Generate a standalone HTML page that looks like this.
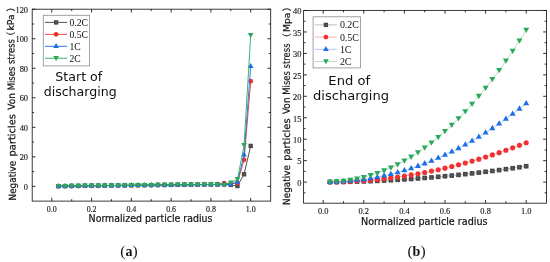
<!DOCTYPE html>
<html><head><meta charset="utf-8"><title>Figure</title>
<style>
html,body{margin:0;padding:0;background:#fff}
svg{display:block}
.t{font-family:"Liberation Serif",serif;font-size:7.9px;fill:#1c1c1c;stroke:#1c1c1c;stroke-width:0.15px}
.l{font-family:"Liberation Serif",serif;font-size:10px;fill:#111}
.a{font-family:"DejaVu Sans","Noto Sans CJK SC",sans-serif;font-size:9.6px;fill:#111;stroke:#111;stroke-width:0.2px}
.n{font-family:"DejaVu Sans","Noto Sans CJK SC",sans-serif;font-size:12.4px;fill:#111}
.c{font-family:"Liberation Serif",serif;font-size:15.5px;fill:#111}
.cb{font-size:14px;font-weight:bold}
</style></head><body>
<svg width="550" height="262" viewBox="0 0 550 262">
<rect width="550" height="262" fill="#fff"/>
<path d="M58.43 186.2 L65.06 186.1 L71.69 186 L78.32 185.91 L84.95 185.82 L91.58 185.74 L98.21 185.66 L104.84 185.58 L111.47 185.5 L118.1 185.43 L124.73 185.36 L131.36 185.29 L137.99 185.22 L144.62 185.15 L151.25 185.08 L157.88 185.01 L164.51 184.94 L171.14 184.88 L177.77 184.81 L184.4 184.75 L191.03 184.69 L197.66 184.62 L204.29 184.56 L210.92 184.5 L217.55 184.44 L224.18 184.43 L230.81 184.87 L237.44 186.05 L244.07 174.25 L250.7 145.91" fill="none" stroke="#3f3f3f" stroke-width="0.9" stroke-opacity="1.0"/>
<rect x="56.28" y="184.05" width="4.3" height="4.3" fill="#3f3f3f"/><path d="M56.28 186.2h4.3M58.43 184.05v4.3" stroke="#757575" stroke-width="0.45"/>
<rect x="62.91" y="183.95" width="4.3" height="4.3" fill="#3f3f3f"/><path d="M62.91 186.1h4.3M65.06 183.95v4.3" stroke="#757575" stroke-width="0.45"/>
<rect x="69.54" y="183.85" width="4.3" height="4.3" fill="#3f3f3f"/><path d="M69.54 186h4.3M71.69 183.85v4.3" stroke="#757575" stroke-width="0.45"/>
<rect x="76.17" y="183.76" width="4.3" height="4.3" fill="#3f3f3f"/><path d="M76.17 185.91h4.3M78.32 183.76v4.3" stroke="#757575" stroke-width="0.45"/>
<rect x="82.8" y="183.67" width="4.3" height="4.3" fill="#3f3f3f"/><path d="M82.8 185.82h4.3M84.95 183.67v4.3" stroke="#757575" stroke-width="0.45"/>
<rect x="89.43" y="183.59" width="4.3" height="4.3" fill="#3f3f3f"/><path d="M89.43 185.74h4.3M91.58 183.59v4.3" stroke="#757575" stroke-width="0.45"/>
<rect x="96.06" y="183.51" width="4.3" height="4.3" fill="#3f3f3f"/><path d="M96.06 185.66h4.3M98.21 183.51v4.3" stroke="#757575" stroke-width="0.45"/>
<rect x="102.69" y="183.43" width="4.3" height="4.3" fill="#3f3f3f"/><path d="M102.69 185.58h4.3M104.84 183.43v4.3" stroke="#757575" stroke-width="0.45"/>
<rect x="109.32" y="183.35" width="4.3" height="4.3" fill="#3f3f3f"/><path d="M109.32 185.5h4.3M111.47 183.35v4.3" stroke="#757575" stroke-width="0.45"/>
<rect x="115.95" y="183.28" width="4.3" height="4.3" fill="#3f3f3f"/><path d="M115.95 185.43h4.3M118.1 183.28v4.3" stroke="#757575" stroke-width="0.45"/>
<rect x="122.58" y="183.21" width="4.3" height="4.3" fill="#3f3f3f"/><path d="M122.58 185.36h4.3M124.73 183.21v4.3" stroke="#757575" stroke-width="0.45"/>
<rect x="129.21" y="183.14" width="4.3" height="4.3" fill="#3f3f3f"/><path d="M129.21 185.29h4.3M131.36 183.14v4.3" stroke="#757575" stroke-width="0.45"/>
<rect x="135.84" y="183.07" width="4.3" height="4.3" fill="#3f3f3f"/><path d="M135.84 185.22h4.3M137.99 183.07v4.3" stroke="#757575" stroke-width="0.45"/>
<rect x="142.47" y="183" width="4.3" height="4.3" fill="#3f3f3f"/><path d="M142.47 185.15h4.3M144.62 183v4.3" stroke="#757575" stroke-width="0.45"/>
<rect x="149.1" y="182.93" width="4.3" height="4.3" fill="#3f3f3f"/><path d="M149.1 185.08h4.3M151.25 182.93v4.3" stroke="#757575" stroke-width="0.45"/>
<rect x="155.73" y="182.86" width="4.3" height="4.3" fill="#3f3f3f"/><path d="M155.73 185.01h4.3M157.88 182.86v4.3" stroke="#757575" stroke-width="0.45"/>
<rect x="162.36" y="182.79" width="4.3" height="4.3" fill="#3f3f3f"/><path d="M162.36 184.94h4.3M164.51 182.79v4.3" stroke="#757575" stroke-width="0.45"/>
<rect x="168.99" y="182.73" width="4.3" height="4.3" fill="#3f3f3f"/><path d="M168.99 184.88h4.3M171.14 182.73v4.3" stroke="#757575" stroke-width="0.45"/>
<rect x="175.62" y="182.66" width="4.3" height="4.3" fill="#3f3f3f"/><path d="M175.62 184.81h4.3M177.77 182.66v4.3" stroke="#757575" stroke-width="0.45"/>
<rect x="182.25" y="182.6" width="4.3" height="4.3" fill="#3f3f3f"/><path d="M182.25 184.75h4.3M184.4 182.6v4.3" stroke="#757575" stroke-width="0.45"/>
<rect x="188.88" y="182.54" width="4.3" height="4.3" fill="#3f3f3f"/><path d="M188.88 184.69h4.3M191.03 182.54v4.3" stroke="#757575" stroke-width="0.45"/>
<rect x="195.51" y="182.47" width="4.3" height="4.3" fill="#3f3f3f"/><path d="M195.51 184.62h4.3M197.66 182.47v4.3" stroke="#757575" stroke-width="0.45"/>
<rect x="202.14" y="182.41" width="4.3" height="4.3" fill="#3f3f3f"/><path d="M202.14 184.56h4.3M204.29 182.41v4.3" stroke="#757575" stroke-width="0.45"/>
<rect x="208.77" y="182.35" width="4.3" height="4.3" fill="#3f3f3f"/><path d="M208.77 184.5h4.3M210.92 182.35v4.3" stroke="#757575" stroke-width="0.45"/>
<rect x="215.4" y="182.29" width="4.3" height="4.3" fill="#3f3f3f"/><path d="M215.4 184.44h4.3M217.55 182.29v4.3" stroke="#757575" stroke-width="0.45"/>
<rect x="222.03" y="182.28" width="4.3" height="4.3" fill="#3f3f3f"/><path d="M222.03 184.43h4.3M224.18 182.28v4.3" stroke="#757575" stroke-width="0.45"/>
<rect x="228.66" y="182.72" width="4.3" height="4.3" fill="#3f3f3f"/><path d="M228.66 184.87h4.3M230.81 182.72v4.3" stroke="#757575" stroke-width="0.45"/>
<rect x="235.29" y="183.9" width="4.3" height="4.3" fill="#3f3f3f"/><path d="M235.29 186.05h4.3M237.44 183.9v4.3" stroke="#757575" stroke-width="0.45"/>
<rect x="241.92" y="172.1" width="4.3" height="4.3" fill="#3f3f3f"/><path d="M241.92 174.25h4.3M244.07 172.1v4.3" stroke="#757575" stroke-width="0.45"/>
<rect x="248.55" y="143.76" width="4.3" height="4.3" fill="#3f3f3f"/><path d="M248.55 145.91h4.3M250.7 143.76v4.3" stroke="#757575" stroke-width="0.45"/>
<path d="M58.43 186.2 L65.06 186.1 L71.69 186 L78.32 185.91 L84.95 185.82 L91.58 185.74 L98.21 185.66 L104.84 185.58 L111.47 185.5 L118.1 185.43 L124.73 185.36 L131.36 185.29 L137.99 185.22 L144.62 185.15 L151.25 185.08 L157.88 185.01 L164.51 184.94 L171.14 184.88 L177.77 184.81 L184.4 184.75 L191.03 184.69 L197.66 184.62 L204.29 184.56 L210.92 184.5 L217.55 184.44 L224.18 183.25 L230.81 183.69 L237.44 182.96 L244.07 159.78 L250.7 81.26" fill="none" stroke="#f23030" stroke-width="0.9" stroke-opacity="1.0"/>
<circle cx="58.43" cy="186.2" r="2.4" fill="#f23030"/>
<circle cx="65.06" cy="186.1" r="2.4" fill="#f23030"/>
<circle cx="71.69" cy="186" r="2.4" fill="#f23030"/>
<circle cx="78.32" cy="185.91" r="2.4" fill="#f23030"/>
<circle cx="84.95" cy="185.82" r="2.4" fill="#f23030"/>
<circle cx="91.58" cy="185.74" r="2.4" fill="#f23030"/>
<circle cx="98.21" cy="185.66" r="2.4" fill="#f23030"/>
<circle cx="104.84" cy="185.58" r="2.4" fill="#f23030"/>
<circle cx="111.47" cy="185.5" r="2.4" fill="#f23030"/>
<circle cx="118.1" cy="185.43" r="2.4" fill="#f23030"/>
<circle cx="124.73" cy="185.36" r="2.4" fill="#f23030"/>
<circle cx="131.36" cy="185.29" r="2.4" fill="#f23030"/>
<circle cx="137.99" cy="185.22" r="2.4" fill="#f23030"/>
<circle cx="144.62" cy="185.15" r="2.4" fill="#f23030"/>
<circle cx="151.25" cy="185.08" r="2.4" fill="#f23030"/>
<circle cx="157.88" cy="185.01" r="2.4" fill="#f23030"/>
<circle cx="164.51" cy="184.94" r="2.4" fill="#f23030"/>
<circle cx="171.14" cy="184.88" r="2.4" fill="#f23030"/>
<circle cx="177.77" cy="184.81" r="2.4" fill="#f23030"/>
<circle cx="184.4" cy="184.75" r="2.4" fill="#f23030"/>
<circle cx="191.03" cy="184.69" r="2.4" fill="#f23030"/>
<circle cx="197.66" cy="184.62" r="2.4" fill="#f23030"/>
<circle cx="204.29" cy="184.56" r="2.4" fill="#f23030"/>
<circle cx="210.92" cy="184.5" r="2.4" fill="#f23030"/>
<circle cx="217.55" cy="184.44" r="2.4" fill="#f23030"/>
<circle cx="224.18" cy="183.25" r="2.4" fill="#f23030"/>
<circle cx="230.81" cy="183.69" r="2.4" fill="#f23030"/>
<circle cx="237.44" cy="182.96" r="2.4" fill="#f23030"/>
<circle cx="244.07" cy="159.78" r="2.4" fill="#f23030"/>
<circle cx="250.7" cy="81.26" r="2.4" fill="#f23030"/>
<path d="M58.43 186.2 L65.06 186.1 L71.69 186 L78.32 185.91 L84.95 185.82 L91.58 185.74 L98.21 185.66 L104.84 185.58 L111.47 185.5 L118.1 185.43 L124.73 185.36 L131.36 185.29 L137.99 185.22 L144.62 185.15 L151.25 185.08 L157.88 185.01 L164.51 184.94 L171.14 184.88 L177.77 184.81 L184.4 184.75 L191.03 184.69 L197.66 184.62 L204.29 184.56 L210.92 184.5 L217.55 184.44 L224.18 184.28 L230.81 184.14 L237.44 182.07 L244.07 154.76 L250.7 66.2" fill="none" stroke="#1e6ee6" stroke-width="0.9" stroke-opacity="1.0"/>
<path d="M55.58 188L61.28 188L58.43 183Z" fill="#1e6ee6"/>
<path d="M62.21 187.9L67.91 187.9L65.06 182.9Z" fill="#1e6ee6"/>
<path d="M68.84 187.8L74.54 187.8L71.69 182.8Z" fill="#1e6ee6"/>
<path d="M75.47 187.71L81.17 187.71L78.32 182.71Z" fill="#1e6ee6"/>
<path d="M82.1 187.62L87.8 187.62L84.95 182.62Z" fill="#1e6ee6"/>
<path d="M88.73 187.54L94.43 187.54L91.58 182.54Z" fill="#1e6ee6"/>
<path d="M95.36 187.46L101.06 187.46L98.21 182.46Z" fill="#1e6ee6"/>
<path d="M101.99 187.38L107.69 187.38L104.84 182.38Z" fill="#1e6ee6"/>
<path d="M108.62 187.3L114.32 187.3L111.47 182.3Z" fill="#1e6ee6"/>
<path d="M115.25 187.23L120.95 187.23L118.1 182.23Z" fill="#1e6ee6"/>
<path d="M121.88 187.16L127.58 187.16L124.73 182.16Z" fill="#1e6ee6"/>
<path d="M128.51 187.09L134.21 187.09L131.36 182.09Z" fill="#1e6ee6"/>
<path d="M135.14 187.02L140.84 187.02L137.99 182.02Z" fill="#1e6ee6"/>
<path d="M141.77 186.95L147.47 186.95L144.62 181.95Z" fill="#1e6ee6"/>
<path d="M148.4 186.88L154.1 186.88L151.25 181.88Z" fill="#1e6ee6"/>
<path d="M155.03 186.81L160.73 186.81L157.88 181.81Z" fill="#1e6ee6"/>
<path d="M161.66 186.74L167.36 186.74L164.51 181.74Z" fill="#1e6ee6"/>
<path d="M168.29 186.68L173.99 186.68L171.14 181.68Z" fill="#1e6ee6"/>
<path d="M174.92 186.61L180.62 186.61L177.77 181.61Z" fill="#1e6ee6"/>
<path d="M181.55 186.55L187.25 186.55L184.4 181.55Z" fill="#1e6ee6"/>
<path d="M188.18 186.49L193.88 186.49L191.03 181.49Z" fill="#1e6ee6"/>
<path d="M194.81 186.42L200.51 186.42L197.66 181.42Z" fill="#1e6ee6"/>
<path d="M201.44 186.36L207.14 186.36L204.29 181.36Z" fill="#1e6ee6"/>
<path d="M208.07 186.3L213.77 186.3L210.92 181.3Z" fill="#1e6ee6"/>
<path d="M214.7 186.24L220.4 186.24L217.55 181.24Z" fill="#1e6ee6"/>
<path d="M221.33 186.08L227.03 186.08L224.18 181.08Z" fill="#1e6ee6"/>
<path d="M227.96 185.94L233.66 185.94L230.81 180.94Z" fill="#1e6ee6"/>
<path d="M234.59 183.87L240.29 183.87L237.44 178.87Z" fill="#1e6ee6"/>
<path d="M241.22 156.56L246.92 156.56L244.07 151.56Z" fill="#1e6ee6"/>
<path d="M247.85 68L253.55 68L250.7 63Z" fill="#1e6ee6"/>
<path d="M58.43 186.2 L65.06 186.1 L71.69 186 L78.32 185.91 L84.95 185.82 L91.58 185.74 L98.21 185.66 L104.84 185.58 L111.47 185.5 L118.1 185.43 L124.73 185.36 L131.36 185.29 L137.99 185.22 L144.62 185.15 L151.25 185.08 L157.88 185.01 L164.51 184.94 L171.14 184.88 L177.77 184.81 L184.4 184.75 L191.03 184.69 L197.66 184.62 L204.29 184.56 L210.92 184.5 L217.55 184.44 L224.18 185.02 L230.81 182.81 L237.44 179.27 L244.07 145.32 L250.7 35.21" fill="none" stroke="#2aa85c" stroke-width="0.9" stroke-opacity="1.0"/>
<path d="M55.58 184L61.28 184L58.43 189Z" fill="#2aa85c"/>
<path d="M62.21 183.9L67.91 183.9L65.06 188.9Z" fill="#2aa85c"/>
<path d="M68.84 183.8L74.54 183.8L71.69 188.8Z" fill="#2aa85c"/>
<path d="M75.47 183.71L81.17 183.71L78.32 188.71Z" fill="#2aa85c"/>
<path d="M82.1 183.62L87.8 183.62L84.95 188.62Z" fill="#2aa85c"/>
<path d="M88.73 183.54L94.43 183.54L91.58 188.54Z" fill="#2aa85c"/>
<path d="M95.36 183.46L101.06 183.46L98.21 188.46Z" fill="#2aa85c"/>
<path d="M101.99 183.38L107.69 183.38L104.84 188.38Z" fill="#2aa85c"/>
<path d="M108.62 183.3L114.32 183.3L111.47 188.3Z" fill="#2aa85c"/>
<path d="M115.25 183.23L120.95 183.23L118.1 188.23Z" fill="#2aa85c"/>
<path d="M121.88 183.16L127.58 183.16L124.73 188.16Z" fill="#2aa85c"/>
<path d="M128.51 183.09L134.21 183.09L131.36 188.09Z" fill="#2aa85c"/>
<path d="M135.14 183.02L140.84 183.02L137.99 188.02Z" fill="#2aa85c"/>
<path d="M141.77 182.95L147.47 182.95L144.62 187.95Z" fill="#2aa85c"/>
<path d="M148.4 182.88L154.1 182.88L151.25 187.88Z" fill="#2aa85c"/>
<path d="M155.03 182.81L160.73 182.81L157.88 187.81Z" fill="#2aa85c"/>
<path d="M161.66 182.74L167.36 182.74L164.51 187.74Z" fill="#2aa85c"/>
<path d="M168.29 182.68L173.99 182.68L171.14 187.68Z" fill="#2aa85c"/>
<path d="M174.92 182.61L180.62 182.61L177.77 187.61Z" fill="#2aa85c"/>
<path d="M181.55 182.55L187.25 182.55L184.4 187.55Z" fill="#2aa85c"/>
<path d="M188.18 182.49L193.88 182.49L191.03 187.49Z" fill="#2aa85c"/>
<path d="M194.81 182.42L200.51 182.42L197.66 187.42Z" fill="#2aa85c"/>
<path d="M201.44 182.36L207.14 182.36L204.29 187.36Z" fill="#2aa85c"/>
<path d="M208.07 182.3L213.77 182.3L210.92 187.3Z" fill="#2aa85c"/>
<path d="M214.7 182.24L220.4 182.24L217.55 187.24Z" fill="#2aa85c"/>
<path d="M221.33 182.82L227.03 182.82L224.18 187.82Z" fill="#2aa85c"/>
<path d="M227.96 180.61L233.66 180.61L230.81 185.61Z" fill="#2aa85c"/>
<path d="M234.59 177.07L240.29 177.07L237.44 182.07Z" fill="#2aa85c"/>
<path d="M241.22 143.12L246.92 143.12L244.07 148.12Z" fill="#2aa85c"/>
<path d="M247.85 33.01L253.55 33.01L250.7 38.01Z" fill="#2aa85c"/>
<rect x="32.2" y="9.2" width="238.5" height="191.9" fill="none" stroke="#1a1a1a" stroke-width="0.85"/>
<path d="M51.8 201.1v-3.3M51.8 9.2v3.3M71.69 201.1v-1.9M71.69 9.2v1.9M91.58 201.1v-3.3M91.58 9.2v3.3M111.47 201.1v-1.9M111.47 9.2v1.9M131.36 201.1v-3.3M131.36 9.2v3.3M151.25 201.1v-1.9M151.25 9.2v1.9M171.14 201.1v-3.3M171.14 9.2v3.3M191.03 201.1v-1.9M191.03 9.2v1.9M210.92 201.1v-3.3M210.92 9.2v3.3M230.81 201.1v-1.9M230.81 9.2v1.9M250.7 201.1v-3.3M250.7 9.2v3.3M32.2 186.35h3.3M270.7 186.35h-3.3M32.2 171.59h1.9M270.7 171.59h-1.9M32.2 156.83h3.3M270.7 156.83h-3.3M32.2 142.07h1.9M270.7 142.07h-1.9M32.2 127.31h3.3M270.7 127.31h-3.3M32.2 112.55h1.9M270.7 112.55h-1.9M32.2 97.79h3.3M270.7 97.79h-3.3M32.2 83.03h1.9M270.7 83.03h-1.9M32.2 68.27h3.3M270.7 68.27h-3.3M32.2 53.51h1.9M270.7 53.51h-1.9M32.2 38.75h3.3M270.7 38.75h-3.3M32.2 23.99h1.9M270.7 23.99h-1.9M32.2 9.23h3.3M270.7 9.23h-3.3" stroke="#1a1a1a" stroke-width="0.9" fill="none"/>
<text class="t" x="51.8" y="212.4" text-anchor="middle" style="font-size:7.9px">0.0</text>
<text class="t" x="91.58" y="212.4" text-anchor="middle" style="font-size:7.9px">0.2</text>
<text class="t" x="131.36" y="212.4" text-anchor="middle" style="font-size:7.9px">0.4</text>
<text class="t" x="171.14" y="212.4" text-anchor="middle" style="font-size:7.9px">0.6</text>
<text class="t" x="210.92" y="212.4" text-anchor="middle" style="font-size:7.9px">0.8</text>
<text class="t" x="250.7" y="212.4" text-anchor="middle" style="font-size:7.9px">1.0</text>
<text class="t" x="28" y="189.75" text-anchor="end" style="font-size:8.4px">0</text>
<text class="t" x="28" y="160.23" text-anchor="end" style="font-size:8.4px">20</text>
<text class="t" x="28" y="130.71" text-anchor="end" style="font-size:8.4px">40</text>
<text class="t" x="28" y="101.19" text-anchor="end" style="font-size:8.4px">60</text>
<text class="t" x="28" y="71.67" text-anchor="end" style="font-size:8.4px">80</text>
<text class="t" x="28" y="42.15" text-anchor="end" style="font-size:8.4px">100</text>
<text class="t" x="28" y="12.63" text-anchor="end" style="font-size:8.4px">120</text>
<text class="a" x="88.6" y="222" textLength="123.8" lengthAdjust="spacingAndGlyphs">Normalized particle radius</text>
<text class="a" style="font-size:9.9px" transform="translate(16 200) rotate(-90.6)"><tspan x="-0.5" textLength="39.8" lengthAdjust="spacingAndGlyphs">Negative</tspan> <tspan x="43.6" textLength="42.4" lengthAdjust="spacingAndGlyphs">particles</tspan> <tspan x="90.3" textLength="16.7" lengthAdjust="spacingAndGlyphs">Von</tspan> <tspan x="109.7" textLength="23.6" lengthAdjust="spacingAndGlyphs">Mises</tspan> <tspan x="135.9" textLength="25.1" lengthAdjust="spacingAndGlyphs">stress</tspan></text>
<text class="a" style="font-size:9.2px" transform="translate(14.1 41) rotate(-90)">（<tspan dx="1.3">kPa</tspan><tspan dx="3.0">）</tspan></text>
<rect x="43.3" y="15.3" width="46.3" height="50.6" fill="#fff" stroke="#8c8c8c" stroke-width="0.8"/>
<path d="M45 22.4h22.2" stroke="#3f3f3f" stroke-width="0.9" stroke-opacity="1.0"/>
<rect x="53.95" y="20.25" width="4.3" height="4.3" fill="#3f3f3f"/><path d="M53.95 22.4h4.3M56.1 20.25v4.3" stroke="#757575" stroke-width="0.45"/>
<text class="l" x="69.5" y="25.8" style="font-size:9.65px">0.2C</text>
<path d="M45 34.35h22.2" stroke="#f23030" stroke-width="0.9" stroke-opacity="1.0"/>
<circle cx="56.1" cy="34.35" r="2.4" fill="#f23030"/>
<text class="l" x="69.5" y="37.75" style="font-size:9.65px">0.5C</text>
<path d="M45 46.3h22.2" stroke="#1e6ee6" stroke-width="0.9" stroke-opacity="1.0"/>
<path d="M53.25 48.1L58.95 48.1L56.1 43.1Z" fill="#1e6ee6"/>
<text class="l" x="69.5" y="49.7" style="font-size:9.65px">1C</text>
<path d="M45 58.25h22.2" stroke="#2aa85c" stroke-width="0.9" stroke-opacity="1.0"/>
<path d="M53.25 56.05L58.95 56.05L56.1 61.05Z" fill="#2aa85c"/>
<text class="l" x="69.5" y="61.65" style="font-size:9.65px">2C</text>
<text class="n" x="78.8" y="80.8" text-anchor="middle" style="font-size:12.6px">Start of</text>
<text class="n" x="80.2" y="96.3" text-anchor="middle" style="font-size:12.6px">discharging</text>
<path d="M329.97 182.08 L336.73 182.02 L343.5 181.92 L350.27 181.78 L357.03 181.61 L363.8 181.4 L370.57 181.16 L377.33 180.88 L384.1 180.56 L390.87 180.22 L397.63 179.83 L404.4 179.42 L411.17 178.97 L417.93 178.48 L424.7 177.96 L431.47 177.41 L438.23 176.83 L445 176.21 L451.77 175.56 L458.53 174.87 L465.3 174.15 L472.07 173.4 L478.83 172.62 L485.6 171.8 L492.37 170.96 L499.13 170.07 L505.9 169.16 L512.67 168.22 L519.43 167.24 L526.2 166.23" fill="none" stroke="#3f3f3f" stroke-width="0.9" stroke-opacity="0.4"/>
<rect x="327.69" y="179.8" width="4.56" height="4.56" fill="#3f3f3f"/><path d="M327.69 182.08h4.56M329.97 179.8v4.56" stroke="#757575" stroke-width="0.45"/>
<rect x="334.45" y="179.74" width="4.56" height="4.56" fill="#3f3f3f"/><path d="M334.45 182.02h4.56M336.73 179.74v4.56" stroke="#757575" stroke-width="0.45"/>
<rect x="341.22" y="179.64" width="4.56" height="4.56" fill="#3f3f3f"/><path d="M341.22 181.92h4.56M343.5 179.64v4.56" stroke="#757575" stroke-width="0.45"/>
<rect x="347.99" y="179.5" width="4.56" height="4.56" fill="#3f3f3f"/><path d="M347.99 181.78h4.56M350.27 179.5v4.56" stroke="#757575" stroke-width="0.45"/>
<rect x="354.75" y="179.33" width="4.56" height="4.56" fill="#3f3f3f"/><path d="M354.75 181.61h4.56M357.03 179.33v4.56" stroke="#757575" stroke-width="0.45"/>
<rect x="361.52" y="179.12" width="4.56" height="4.56" fill="#3f3f3f"/><path d="M361.52 181.4h4.56M363.8 179.12v4.56" stroke="#757575" stroke-width="0.45"/>
<rect x="368.29" y="178.88" width="4.56" height="4.56" fill="#3f3f3f"/><path d="M368.29 181.16h4.56M370.57 178.88v4.56" stroke="#757575" stroke-width="0.45"/>
<rect x="375.05" y="178.6" width="4.56" height="4.56" fill="#3f3f3f"/><path d="M375.05 180.88h4.56M377.33 178.6v4.56" stroke="#757575" stroke-width="0.45"/>
<rect x="381.82" y="178.29" width="4.56" height="4.56" fill="#3f3f3f"/><path d="M381.82 180.56h4.56M384.1 178.29v4.56" stroke="#757575" stroke-width="0.45"/>
<rect x="388.59" y="177.94" width="4.56" height="4.56" fill="#3f3f3f"/><path d="M388.59 180.22h4.56M390.87 177.94v4.56" stroke="#757575" stroke-width="0.45"/>
<rect x="395.35" y="177.55" width="4.56" height="4.56" fill="#3f3f3f"/><path d="M395.35 179.83h4.56M397.63 177.55v4.56" stroke="#757575" stroke-width="0.45"/>
<rect x="402.12" y="177.14" width="4.56" height="4.56" fill="#3f3f3f"/><path d="M402.12 179.42h4.56M404.4 177.14v4.56" stroke="#757575" stroke-width="0.45"/>
<rect x="408.89" y="176.69" width="4.56" height="4.56" fill="#3f3f3f"/><path d="M408.89 178.97h4.56M411.17 176.69v4.56" stroke="#757575" stroke-width="0.45"/>
<rect x="415.65" y="176.2" width="4.56" height="4.56" fill="#3f3f3f"/><path d="M415.65 178.48h4.56M417.93 176.2v4.56" stroke="#757575" stroke-width="0.45"/>
<rect x="422.42" y="175.68" width="4.56" height="4.56" fill="#3f3f3f"/><path d="M422.42 177.96h4.56M424.7 175.68v4.56" stroke="#757575" stroke-width="0.45"/>
<rect x="429.19" y="175.13" width="4.56" height="4.56" fill="#3f3f3f"/><path d="M429.19 177.41h4.56M431.47 175.13v4.56" stroke="#757575" stroke-width="0.45"/>
<rect x="435.95" y="174.55" width="4.56" height="4.56" fill="#3f3f3f"/><path d="M435.95 176.83h4.56M438.23 174.55v4.56" stroke="#757575" stroke-width="0.45"/>
<rect x="442.72" y="173.93" width="4.56" height="4.56" fill="#3f3f3f"/><path d="M442.72 176.21h4.56M445 173.93v4.56" stroke="#757575" stroke-width="0.45"/>
<rect x="449.49" y="173.28" width="4.56" height="4.56" fill="#3f3f3f"/><path d="M449.49 175.56h4.56M451.77 173.28v4.56" stroke="#757575" stroke-width="0.45"/>
<rect x="456.25" y="172.59" width="4.56" height="4.56" fill="#3f3f3f"/><path d="M456.25 174.87h4.56M458.53 172.59v4.56" stroke="#757575" stroke-width="0.45"/>
<rect x="463.02" y="171.87" width="4.56" height="4.56" fill="#3f3f3f"/><path d="M463.02 174.15h4.56M465.3 171.87v4.56" stroke="#757575" stroke-width="0.45"/>
<rect x="469.79" y="171.12" width="4.56" height="4.56" fill="#3f3f3f"/><path d="M469.79 173.4h4.56M472.07 171.12v4.56" stroke="#757575" stroke-width="0.45"/>
<rect x="476.55" y="170.34" width="4.56" height="4.56" fill="#3f3f3f"/><path d="M476.55 172.62h4.56M478.83 170.34v4.56" stroke="#757575" stroke-width="0.45"/>
<rect x="483.32" y="169.53" width="4.56" height="4.56" fill="#3f3f3f"/><path d="M483.32 171.8h4.56M485.6 169.53v4.56" stroke="#757575" stroke-width="0.45"/>
<rect x="490.09" y="168.68" width="4.56" height="4.56" fill="#3f3f3f"/><path d="M490.09 170.96h4.56M492.37 168.68v4.56" stroke="#757575" stroke-width="0.45"/>
<rect x="496.85" y="167.8" width="4.56" height="4.56" fill="#3f3f3f"/><path d="M496.85 170.07h4.56M499.13 167.8v4.56" stroke="#757575" stroke-width="0.45"/>
<rect x="503.62" y="166.88" width="4.56" height="4.56" fill="#3f3f3f"/><path d="M503.62 169.16h4.56M505.9 166.88v4.56" stroke="#757575" stroke-width="0.45"/>
<rect x="510.39" y="165.94" width="4.56" height="4.56" fill="#3f3f3f"/><path d="M510.39 168.22h4.56M512.67 165.94v4.56" stroke="#757575" stroke-width="0.45"/>
<rect x="517.15" y="164.96" width="4.56" height="4.56" fill="#3f3f3f"/><path d="M517.15 167.24h4.56M519.43 164.96v4.56" stroke="#757575" stroke-width="0.45"/>
<rect x="523.92" y="163.95" width="4.56" height="4.56" fill="#3f3f3f"/><path d="M523.92 166.23h4.56M526.2 163.95v4.56" stroke="#757575" stroke-width="0.45"/>
<path d="M329.97 182.06 L336.73 181.94 L343.5 181.73 L350.27 181.44 L357.03 181.06 L363.8 180.6 L370.57 180.05 L377.33 179.41 L384.1 178.68 L390.87 177.87 L397.63 176.96 L404.4 175.97 L411.17 174.89 L417.93 173.72 L424.7 172.46 L431.47 171.11 L438.23 169.67 L445 168.14 L451.77 166.52 L458.53 164.81 L465.3 163.01 L472.07 161.12 L478.83 159.14 L485.6 157.06 L492.37 154.9 L499.13 152.65 L505.9 150.3 L512.67 147.86 L519.43 145.34 L526.2 142.72" fill="none" stroke="#f23030" stroke-width="0.9" stroke-opacity="0.4"/>
<circle cx="329.97" cy="182.06" r="2.54" fill="#f23030"/>
<circle cx="336.73" cy="181.94" r="2.54" fill="#f23030"/>
<circle cx="343.5" cy="181.73" r="2.54" fill="#f23030"/>
<circle cx="350.27" cy="181.44" r="2.54" fill="#f23030"/>
<circle cx="357.03" cy="181.06" r="2.54" fill="#f23030"/>
<circle cx="363.8" cy="180.6" r="2.54" fill="#f23030"/>
<circle cx="370.57" cy="180.05" r="2.54" fill="#f23030"/>
<circle cx="377.33" cy="179.41" r="2.54" fill="#f23030"/>
<circle cx="384.1" cy="178.68" r="2.54" fill="#f23030"/>
<circle cx="390.87" cy="177.87" r="2.54" fill="#f23030"/>
<circle cx="397.63" cy="176.96" r="2.54" fill="#f23030"/>
<circle cx="404.4" cy="175.97" r="2.54" fill="#f23030"/>
<circle cx="411.17" cy="174.89" r="2.54" fill="#f23030"/>
<circle cx="417.93" cy="173.72" r="2.54" fill="#f23030"/>
<circle cx="424.7" cy="172.46" r="2.54" fill="#f23030"/>
<circle cx="431.47" cy="171.11" r="2.54" fill="#f23030"/>
<circle cx="438.23" cy="169.67" r="2.54" fill="#f23030"/>
<circle cx="445" cy="168.14" r="2.54" fill="#f23030"/>
<circle cx="451.77" cy="166.52" r="2.54" fill="#f23030"/>
<circle cx="458.53" cy="164.81" r="2.54" fill="#f23030"/>
<circle cx="465.3" cy="163.01" r="2.54" fill="#f23030"/>
<circle cx="472.07" cy="161.12" r="2.54" fill="#f23030"/>
<circle cx="478.83" cy="159.14" r="2.54" fill="#f23030"/>
<circle cx="485.6" cy="157.06" r="2.54" fill="#f23030"/>
<circle cx="492.37" cy="154.9" r="2.54" fill="#f23030"/>
<circle cx="499.13" cy="152.65" r="2.54" fill="#f23030"/>
<circle cx="505.9" cy="150.3" r="2.54" fill="#f23030"/>
<circle cx="512.67" cy="147.86" r="2.54" fill="#f23030"/>
<circle cx="519.43" cy="145.34" r="2.54" fill="#f23030"/>
<circle cx="526.2" cy="142.72" r="2.54" fill="#f23030"/>
<path d="M329.97 182.03 L336.73 181.82 L343.5 181.45 L350.27 180.91 L357.03 180.21 L363.8 179.33 L370.57 178.29 L377.33 177.06 L384.1 175.67 L390.87 174.09 L397.63 172.33 L404.4 170.39 L411.17 168.27 L417.93 165.97 L424.7 163.48 L431.47 160.81 L438.23 157.94 L445 154.9 L451.77 151.66 L458.53 148.23 L465.3 144.61 L472.07 140.8 L478.83 136.8 L485.6 132.61 L492.37 128.22 L499.13 123.64 L505.9 118.87 L512.67 113.9 L519.43 108.74 L526.2 103.38" fill="none" stroke="#1e6ee6" stroke-width="0.9" stroke-opacity="0.4"/>
<path d="M326.95 183.94L332.99 183.94L329.97 178.64Z" fill="#1e6ee6"/>
<path d="M333.71 183.73L339.75 183.73L336.73 178.43Z" fill="#1e6ee6"/>
<path d="M340.48 183.35L346.52 183.35L343.5 178.05Z" fill="#1e6ee6"/>
<path d="M347.25 182.82L353.29 182.82L350.27 177.52Z" fill="#1e6ee6"/>
<path d="M354.01 182.11L360.05 182.11L357.03 176.81Z" fill="#1e6ee6"/>
<path d="M360.78 181.24L366.82 181.24L363.8 175.94Z" fill="#1e6ee6"/>
<path d="M367.55 180.19L373.59 180.19L370.57 174.89Z" fill="#1e6ee6"/>
<path d="M374.31 178.97L380.35 178.97L377.33 173.67Z" fill="#1e6ee6"/>
<path d="M381.08 177.57L387.12 177.57L384.1 172.27Z" fill="#1e6ee6"/>
<path d="M387.85 176L393.89 176L390.87 170.7Z" fill="#1e6ee6"/>
<path d="M394.61 174.24L400.65 174.24L397.63 168.94Z" fill="#1e6ee6"/>
<path d="M401.38 172.3L407.42 172.3L404.4 167Z" fill="#1e6ee6"/>
<path d="M408.15 170.18L414.19 170.18L411.17 164.88Z" fill="#1e6ee6"/>
<path d="M414.91 167.88L420.95 167.88L417.93 162.58Z" fill="#1e6ee6"/>
<path d="M421.68 165.39L427.72 165.39L424.7 160.09Z" fill="#1e6ee6"/>
<path d="M428.45 162.71L434.49 162.71L431.47 157.41Z" fill="#1e6ee6"/>
<path d="M435.21 159.85L441.25 159.85L438.23 154.55Z" fill="#1e6ee6"/>
<path d="M441.98 156.8L448.02 156.8L445 151.5Z" fill="#1e6ee6"/>
<path d="M448.75 153.56L454.79 153.56L451.77 148.26Z" fill="#1e6ee6"/>
<path d="M455.51 150.14L461.55 150.14L458.53 144.84Z" fill="#1e6ee6"/>
<path d="M462.28 146.52L468.32 146.52L465.3 141.22Z" fill="#1e6ee6"/>
<path d="M469.05 142.71L475.09 142.71L472.07 137.41Z" fill="#1e6ee6"/>
<path d="M475.81 138.71L481.85 138.71L478.83 133.41Z" fill="#1e6ee6"/>
<path d="M482.58 134.52L488.62 134.52L485.6 129.22Z" fill="#1e6ee6"/>
<path d="M489.35 130.13L495.39 130.13L492.37 124.83Z" fill="#1e6ee6"/>
<path d="M496.11 125.55L502.15 125.55L499.13 120.25Z" fill="#1e6ee6"/>
<path d="M502.88 120.78L508.92 120.78L505.9 115.48Z" fill="#1e6ee6"/>
<path d="M509.65 115.81L515.69 115.81L512.67 110.51Z" fill="#1e6ee6"/>
<path d="M516.41 110.65L522.45 110.65L519.43 105.35Z" fill="#1e6ee6"/>
<path d="M523.18 105.29L529.22 105.29L526.2 99.99Z" fill="#1e6ee6"/>
<path d="M329.97 182 L336.73 181.65 L343.5 181.02 L350.27 180.1 L357.03 178.87 L363.8 177.32 L370.57 175.44 L377.33 173.23 L384.1 170.67 L390.87 167.77 L397.63 164.51 L404.4 160.89 L411.17 156.91 L417.93 152.56 L424.7 147.83 L431.47 142.73 L438.23 137.25 L445 131.39 L451.77 125.14 L458.53 118.5 L465.3 111.46 L472.07 104.03 L478.83 96.2 L485.6 87.97 L492.37 79.34 L499.13 70.3 L505.9 60.85 L512.67 50.98 L519.43 40.71 L526.2 30.02" fill="none" stroke="#2aa85c" stroke-width="0.9" stroke-opacity="0.4"/>
<path d="M326.95 179.67L332.99 179.67L329.97 184.97Z" fill="#2aa85c"/>
<path d="M333.71 179.32L339.75 179.32L336.73 184.62Z" fill="#2aa85c"/>
<path d="M340.48 178.69L346.52 178.69L343.5 183.99Z" fill="#2aa85c"/>
<path d="M347.25 177.77L353.29 177.77L350.27 183.07Z" fill="#2aa85c"/>
<path d="M354.01 176.54L360.05 176.54L357.03 181.84Z" fill="#2aa85c"/>
<path d="M360.78 174.99L366.82 174.99L363.8 180.29Z" fill="#2aa85c"/>
<path d="M367.55 173.11L373.59 173.11L370.57 178.41Z" fill="#2aa85c"/>
<path d="M374.31 170.9L380.35 170.9L377.33 176.2Z" fill="#2aa85c"/>
<path d="M381.08 168.34L387.12 168.34L384.1 173.64Z" fill="#2aa85c"/>
<path d="M387.85 165.44L393.89 165.44L390.87 170.74Z" fill="#2aa85c"/>
<path d="M394.61 162.18L400.65 162.18L397.63 167.48Z" fill="#2aa85c"/>
<path d="M401.38 158.56L407.42 158.56L404.4 163.86Z" fill="#2aa85c"/>
<path d="M408.15 154.58L414.19 154.58L411.17 159.88Z" fill="#2aa85c"/>
<path d="M414.91 150.23L420.95 150.23L417.93 155.53Z" fill="#2aa85c"/>
<path d="M421.68 145.5L427.72 145.5L424.7 150.8Z" fill="#2aa85c"/>
<path d="M428.45 140.4L434.49 140.4L431.47 145.7Z" fill="#2aa85c"/>
<path d="M435.21 134.92L441.25 134.92L438.23 140.22Z" fill="#2aa85c"/>
<path d="M441.98 129.06L448.02 129.06L445 134.36Z" fill="#2aa85c"/>
<path d="M448.75 122.81L454.79 122.81L451.77 128.11Z" fill="#2aa85c"/>
<path d="M455.51 116.17L461.55 116.17L458.53 121.47Z" fill="#2aa85c"/>
<path d="M462.28 109.13L468.32 109.13L465.3 114.43Z" fill="#2aa85c"/>
<path d="M469.05 101.7L475.09 101.7L472.07 107Z" fill="#2aa85c"/>
<path d="M475.81 93.87L481.85 93.87L478.83 99.17Z" fill="#2aa85c"/>
<path d="M482.58 85.64L488.62 85.64L485.6 90.94Z" fill="#2aa85c"/>
<path d="M489.35 77.01L495.39 77.01L492.37 82.31Z" fill="#2aa85c"/>
<path d="M496.11 67.96L502.15 67.96L499.13 73.26Z" fill="#2aa85c"/>
<path d="M502.88 58.51L508.92 58.51L505.9 63.81Z" fill="#2aa85c"/>
<path d="M509.65 48.65L515.69 48.65L512.67 53.95Z" fill="#2aa85c"/>
<path d="M516.41 38.38L522.45 38.38L519.43 43.68Z" fill="#2aa85c"/>
<path d="M523.18 27.69L529.22 27.69L526.2 32.99Z" fill="#2aa85c"/>
<rect x="303.6" y="10.4" width="242.9" height="192.8" fill="none" stroke="#1a1a1a" stroke-width="0.85"/>
<path d="M323.2 203.2v-3.3M323.2 10.4v3.3M343.5 203.2v-1.9M343.5 10.4v1.9M363.8 203.2v-3.3M363.8 10.4v3.3M384.1 203.2v-1.9M384.1 10.4v1.9M404.4 203.2v-3.3M404.4 10.4v3.3M424.7 203.2v-1.9M424.7 10.4v1.9M445 203.2v-3.3M445 10.4v3.3M465.3 203.2v-1.9M465.3 10.4v1.9M485.6 203.2v-3.3M485.6 10.4v3.3M505.9 203.2v-1.9M505.9 10.4v1.9M526.2 203.2v-3.3M526.2 10.4v3.3M303.6 192.82h1.9M546.5 192.82h-1.9M303.6 182.1h3.3M546.5 182.1h-3.3M303.6 171.38h1.9M546.5 171.38h-1.9M303.6 160.65h3.3M546.5 160.65h-3.3M303.6 149.93h1.9M546.5 149.93h-1.9M303.6 139.2h3.3M546.5 139.2h-3.3M303.6 128.47h1.9M546.5 128.47h-1.9M303.6 117.75h3.3M546.5 117.75h-3.3M303.6 107.02h1.9M546.5 107.02h-1.9M303.6 96.3h3.3M546.5 96.3h-3.3M303.6 85.57h1.9M546.5 85.57h-1.9M303.6 74.85h3.3M546.5 74.85h-3.3M303.6 64.12h1.9M546.5 64.12h-1.9M303.6 53.4h3.3M546.5 53.4h-3.3M303.6 42.67h1.9M546.5 42.67h-1.9M303.6 31.95h3.3M546.5 31.95h-3.3M303.6 21.22h1.9M546.5 21.22h-1.9M303.6 10.5h3.3M546.5 10.5h-3.3" stroke="#1a1a1a" stroke-width="0.9" fill="none"/>
<text class="t" x="323.2" y="213.8" text-anchor="middle" style="font-size:8.4px">0.0</text>
<text class="t" x="363.8" y="213.8" text-anchor="middle" style="font-size:8.4px">0.2</text>
<text class="t" x="404.4" y="213.8" text-anchor="middle" style="font-size:8.4px">0.4</text>
<text class="t" x="445" y="213.8" text-anchor="middle" style="font-size:8.4px">0.6</text>
<text class="t" x="485.6" y="213.8" text-anchor="middle" style="font-size:8.4px">0.8</text>
<text class="t" x="526.2" y="213.8" text-anchor="middle" style="font-size:8.4px">1.0</text>
<text class="t" x="301.4" y="185.9" text-anchor="end" style="font-size:8.4px">0</text>
<text class="t" x="301.4" y="164.45" text-anchor="end" style="font-size:8.4px">5</text>
<text class="t" x="301.4" y="143" text-anchor="end" style="font-size:8.4px">10</text>
<text class="t" x="301.4" y="121.55" text-anchor="end" style="font-size:8.4px">15</text>
<text class="t" x="301.4" y="100.1" text-anchor="end" style="font-size:8.4px">20</text>
<text class="t" x="301.4" y="78.65" text-anchor="end" style="font-size:8.4px">25</text>
<text class="t" x="301.4" y="57.2" text-anchor="end" style="font-size:8.4px">30</text>
<text class="t" x="301.4" y="35.75" text-anchor="end" style="font-size:8.4px">35</text>
<text class="t" x="301.4" y="14.3" text-anchor="end" style="font-size:8.4px">40</text>
<text class="a" x="361" y="224.6" textLength="126.5" lengthAdjust="spacingAndGlyphs">Normalized particle radius</text>
<text class="a" style="font-size:9.9px" transform="translate(290.1 204.4) rotate(-90.15)"><tspan x="-0.5" textLength="39.8" lengthAdjust="spacingAndGlyphs">Negative</tspan> <tspan x="43.6" textLength="42.4" lengthAdjust="spacingAndGlyphs">particles</tspan> <tspan x="90.3" textLength="16.7" lengthAdjust="spacingAndGlyphs">Von</tspan> <tspan x="109.7" textLength="23.6" lengthAdjust="spacingAndGlyphs">Mises</tspan> <tspan x="135.9" textLength="25.1" lengthAdjust="spacingAndGlyphs">stress</tspan></text>
<text class="a" style="font-size:9.2px" transform="translate(289.6 42.5) rotate(-90)">（<tspan dx="1.3">Mpa</tspan><tspan dx="1.3">）</tspan></text>
<rect x="313.1" y="16.8" width="47.3" height="51.1" fill="#fff" stroke="#8c8c8c" stroke-width="0.8"/>
<path d="M314.8 24.9h22.2" stroke="#3f3f3f" stroke-width="0.9" stroke-opacity="0.4"/>
<rect x="323.75" y="22.75" width="4.3" height="4.3" fill="#3f3f3f"/><path d="M323.75 24.9h4.3M325.9 22.75v4.3" stroke="#757575" stroke-width="0.45"/>
<text class="l" x="339.9" y="28.3" style="font-size:9.95px">0.2C</text>
<path d="M314.8 37.1h22.2" stroke="#f23030" stroke-width="0.9" stroke-opacity="0.4"/>
<circle cx="325.9" cy="37.1" r="2.4" fill="#f23030"/>
<text class="l" x="339.9" y="40.5" style="font-size:9.95px">0.5C</text>
<path d="M314.8 49.3h22.2" stroke="#1e6ee6" stroke-width="0.9" stroke-opacity="0.4"/>
<path d="M323.05 51.1L328.75 51.1L325.9 46.1Z" fill="#1e6ee6"/>
<text class="l" x="339.9" y="52.7" style="font-size:9.95px">1C</text>
<path d="M314.8 61.5h22.2" stroke="#2aa85c" stroke-width="0.9" stroke-opacity="0.4"/>
<path d="M323.05 59.3L328.75 59.3L325.9 64.3Z" fill="#2aa85c"/>
<text class="l" x="339.9" y="64.9" style="font-size:9.95px">2C</text>
<text class="n" x="349.2" y="84.5" text-anchor="middle" style="font-size:13.1px">End of</text>
<text class="n" x="351" y="100.1" text-anchor="middle" style="font-size:13.1px">discharging</text>
<text class="c" x="129" y="256.4" text-anchor="middle">(<tspan class="cb">a</tspan>)</text>
<text class="c" x="416.5" y="256.4" text-anchor="middle">(<tspan class="cb">b</tspan>)</text>
</svg>
</body></html>
